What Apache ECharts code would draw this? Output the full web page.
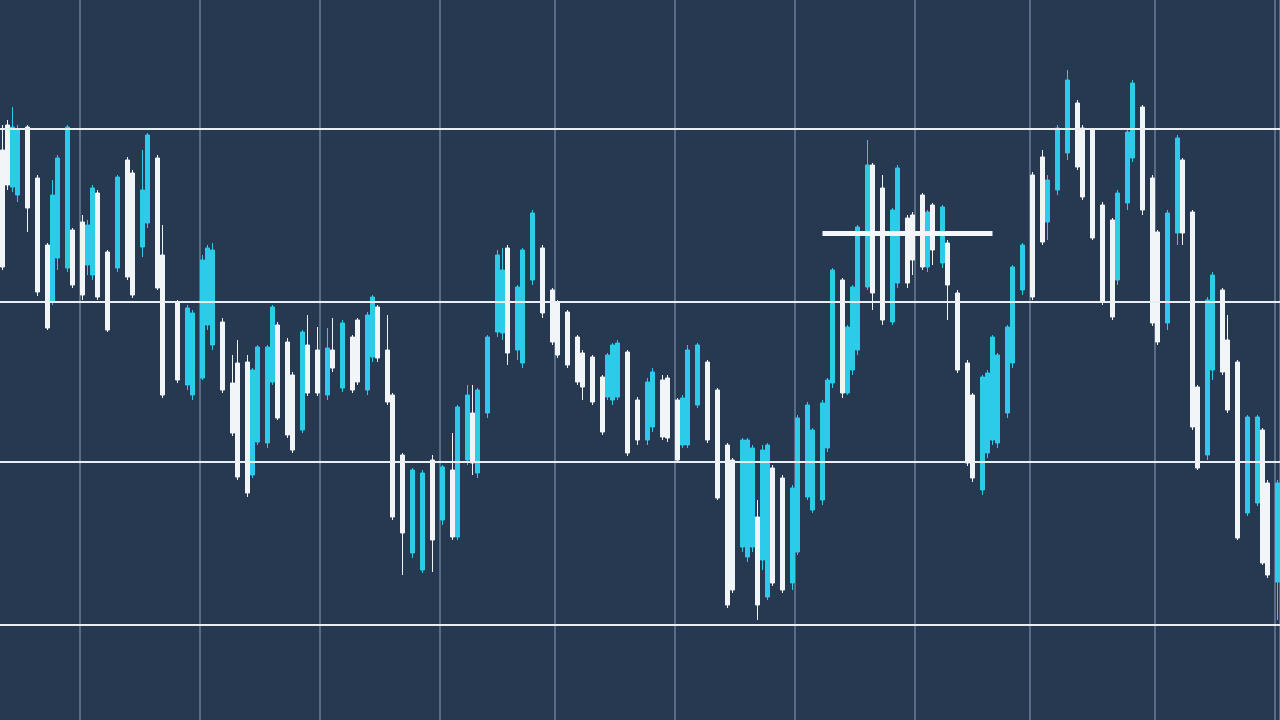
<!DOCTYPE html>
<html><head><meta charset="utf-8">
<script src="https://cdn.jsdelivr.net/npm/echarts@6/dist/echarts.min.js"></script>
<style>html,body{margin:0;padding:0;background:#263951;overflow:hidden}#c{width:1280px;height:720px}</style>
</head><body><div id="c"></div>
<script>
// Time axis: bar slots (gaps = no bar in that slot)
const SLOT_COUNT = 256;
const barSlot = [0,1,2,3,5,7,9,10,11,13,14,16,17,18,19,21,23,25,26,28,29,31,32,35,37,38,40,41,42,44,46,47,49,50,51,53,54,55,57,58,60,61,63,65,66,68,70,71,73,74,75,77,78,80,82,84,86,88,90,91,93,94,95,97,99,100,101,103,104,106,108,110,111,113,115,116,118,120,121,122,123,125,127,129,130,132,133,135,136,137,139,141,143,145,146,148,149,150,151,152,153,154,156,158,159,161,162,164,165,166,168,169,170,171,173,174,176,178,179,181,182,184,185,186,188,189,191,193,194,196,197,198,199,201,202,204,206,208,209,211,213,215,216,218,220,222,223,225,226,228,230,231,233,235,236,238,239,241,242,244,245,247,249,251,252,253,255];
const open  = [570,595,533,525,593,542,475,418,462,452,490,498,455,445,527,468,452,560,547,473,497,562,465,417,335,325,342,395,375,398,337,357,358,245,278,277,338,395,378,345,290,375,370,325,370,332,383,400,330,363,413,370,325,265,167,150,260,200,250,183,260,307,247,307,388,387,472,370,357,440,472,430,417,408,383,367,363,343,323,320,323,368,320,280,293,340,342,320,275,275,315,358,330,275,260,173,163,173,203,160,123,252,242,137,168,223,210,220,272,337,440,327,350,370,433,555,532,398,437,502,505,525,453,515,457,477,427,357,325,230,267,280,277,307,357,430,545,563,498,530,567,617,592,590,515,500,440,517,562,613,542,488,397,487,560,508,333,265,350,430,380,358,207,217,290,237,138];
const close = [453,535,593,590,512,428,392,525,562,593,435,425,495,532,423,390,543,443,425,530,585,432,325,340,412,407,460,472,470,330,287,243,227,350,373,373,413,302,285,270,388,327,327,372,352,397,330,338,405,423,362,318,203,187,250,247,180,253,183,313,325,257,330,383,465,450,367,433,470,507,407,378,365,355,338,333,318,288,365,375,377,267,280,338,348,283,282,260,322,370,375,280,222,115,130,280,280,272,115,270,275,137,130,232,302,315,290,317,340,450,327,393,433,493,555,427,400,510,552,437,460,453,508,470,513,435,350,257,242,343,347,383,365,393,453,475,423,478,540,592,640,553,523,482,418,403,527,588,637,510,397,378,507,582,487,293,252,420,445,348,310,182,303,303,157,145,237];
const low   = [450,530,528,518,488,424,390,415,450,448,432,420,445,440,420,388,448,440,422,463,492,430,322,337,330,320,340,390,370,327,284,240,223,242,275,272,335,300,282,267,287,324,324,320,348,328,327,335,325,358,358,315,200,145,162,147,148,195,180,180,255,245,242,302,383,380,355,360,352,435,402,375,362,352,335,320,315,285,320,315,320,264,275,275,288,280,278,257,272,272,312,277,220,112,127,168,158,168,100,150,120,134,127,130,165,220,207,215,268,332,322,325,345,365,430,410,395,395,432,432,445,450,448,455,452,400,347,254,238,225,262,275,272,302,352,425,420,475,480,525,560,550,520,480,415,400,435,510,558,505,394,375,390,475,475,290,250,260,340,345,307,180,204,214,155,142,100];
const high  = [595,600,613,595,595,545,477,540,565,595,492,505,500,535,530,470,545,563,550,570,587,565,495,420,415,410,465,475,477,402,365,380,365,352,375,375,415,398,382,348,390,405,393,392,402,400,385,402,408,425,415,405,327,267,252,250,265,255,287,315,335,335,332,385,470,472,475,435,472,510,475,432,420,410,385,370,365,345,367,377,380,370,323,342,352,345,345,322,325,375,377,360,332,277,262,282,282,275,220,275,277,255,245,235,305,318,292,320,342,452,442,395,435,495,580,557,545,512,555,505,508,527,510,517,515,480,430,360,327,345,350,385,367,395,455,477,548,570,545,595,650,620,595,592,518,502,530,590,640,615,545,490,510,585,562,510,335,423,448,432,405,360,305,305,292,240,240];
// Horizontal level lines and the short resistance segment
const levelLines = [591, 418, 258, 95];
const resistance = { from: '164', to: '198', value: 487 };
// Vertical grid positions (slot boundaries)
const gridTicks = [16, 40, 64, 88, 111, 135, 159, 183, 206, 231, 255];

const categories = Array.from({ length: SLOT_COUNT }, (_, i) => String(i));
const ohlc = categories.map(() => '-');
barSlot.forEach((s, i) => { ohlc[s] = [open[i], close[i], low[i], high[i]]; });
const gridSet = new Set(gridTicks);

const chart = echarts.init(document.getElementById('c'));
chart.setOption({
  animation: false,
  backgroundColor: '#263951',
  grid: { left: 0, right: 0, top: 0, bottom: 0 },
  xAxis: {
    type: 'category', data: categories, boundaryGap: true,
    axisLine: { show: false }, axisTick: { show: false }, axisLabel: { show: false },
    splitLine: { show: true, interval: (idx) => gridSet.has(idx),
      lineStyle: { color: 'rgba(150,172,200,0.6)', width: 1.5 } }
  },
  yAxis: {
    type: 'value', min: 0, max: 720, show: false, splitLine: { show: false }
  },
  series: [{
    type: 'candlestick',
    data: ohlc,
    barWidth: 4,
    itemStyle: {
      color: '#2ccbea', borderColor: '#2ccbea',
      color0: '#f1f5f8', borderColor0: '#f1f5f8',
      borderWidth: 1
    },
    markLine: {
      silent: true, symbol: ['none', 'none'], label: { show: false },
      lineStyle: { color: '#e9eef4', width: 2, type: 'solid' },
      data: levelLines.map(v => ({ yAxis: v })).concat([[
        { coord: [resistance.from, resistance.value], lineStyle: { width: 5, color: '#f4f7fa' } },
        { coord: [resistance.to, resistance.value] }
      ]])
    }
  }]
});
</script></body></html>
